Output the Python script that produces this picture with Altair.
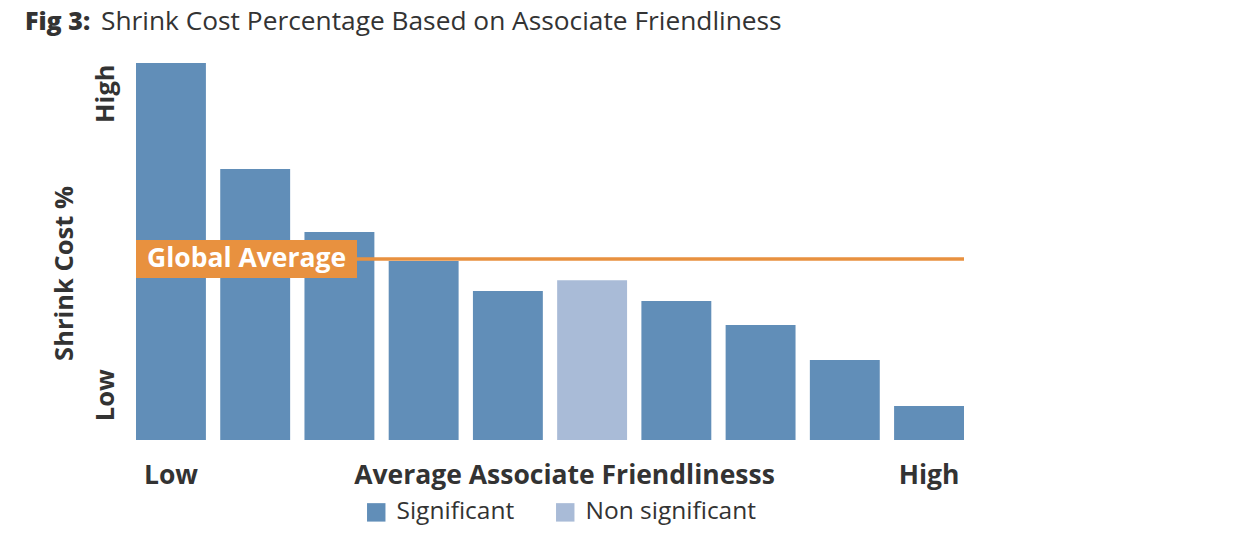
import altair as alt
import pandas as pd

# Friendliness groups, lowest to highest
groups = ["G1", "G2", "G3", "G4", "G5", "G6", "G7", "G8", "G9", "G10"]
# Relative shrink cost (index, 100 = highest group)
shrink_cost = [100, 71.9, 55.2, 47.5, 39.5, 42.4, 36.9, 30.5, 21.2, 9.0]
significance = ["Significant", "Significant", "Significant", "Significant", "Significant",
                "Non significant", "Significant", "Significant", "Significant", "Significant"]
global_average = 48.0

x_tick_labels = {"G1": "Low", "G10": "High"}
y_tick_labels = {12: "Low", 92: "High"}

FONT = "Open Sans"
BLUE = "#618EB8"
LIGHT_BLUE = "#A9BBD7"
ORANGE = "#E8913F"
INK = "#333333"

df = pd.DataFrame({"group": groups, "cost": shrink_cost, "sig": significance})

x_label_expr = " : ".join(
    [f"datum.value == '{k}' ? '{v}'" for k, v in x_tick_labels.items()] + ["''"]
)
y_label_expr = " : ".join(
    [f"datum.value == {k} ? '{v}'" for k, v in y_tick_labels.items()] + ["''"]
)

bars = alt.Chart(df).mark_bar().encode(
    x=alt.X(
        "group:N",
        sort=groups,
        scale=alt.Scale(paddingInner=0.17, paddingOuter=0),
        axis=alt.Axis(
            title="Average Associate Friendlinesss",
            labelExpr=x_label_expr,
            labelAngle=0,
            labelFont=FONT,
            labelFontSize=26.5,
            labelFontWeight="bold",
            labelColor=INK,
            labelBaseline="alphabetic",
            labelPadding=43,
            ticks=False,
            domain=False,
            titleFont=FONT,
            titleFontSize=26.5,
            titleFontWeight="bold",
            titleColor=INK,
            titleBaseline="alphabetic",
            titleAnchor="start",
            titleAlign="center",
            titleX=428,
            titleY=43,
        ),
    ),
    y=alt.Y(
        "cost:Q",
        scale=alt.Scale(domain=[0, 100], nice=False),
        axis=alt.Axis(
            title="Shrink Cost %",
            values=list(y_tick_labels.keys()),
            labelExpr=y_label_expr,
            labelAngle=270,
            labelAlign="center",
            labelBaseline="alphabetic",
            labelPadding=23,
            labelFont=FONT,
            labelFontSize=25.5,
            labelFontWeight="bold",
            labelColor=INK,
            ticks=False,
            domain=False,
            grid=False,
            titleFont=FONT,
            titleFontSize=25.5,
            titleFontWeight="bold",
            titleColor=INK,
            titleAngle=270,
            titleAlign="center",
            titleBaseline="alphabetic",
            titleX=-64,
            titleY=210,
        ),
    ),
    color=alt.Color(
        "sig:N",
        scale=alt.Scale(domain=["Significant", "Non significant"], range=[BLUE, LIGHT_BLUE]),
        legend=alt.Legend(
            title=None,
            orient="none",
            direction="horizontal",
            legendX=228,
            legendY=437,
            symbolType="square",
            symbolSize=340,
            symbolStrokeWidth=0,
            symbolOpacity=1,
            labelFont=FONT,
            labelFontSize=24.5,
            labelColor=INK,
            labelOffset=8,
            labelLimit=400,
            columnPadding=38,
        ),
    ),
)

avg_df = pd.DataFrame({"avg": [global_average], "label": ["Global Average"]})

avg_line = alt.Chart(avg_df).mark_rule(color=ORANGE, strokeWidth=3.5).encode(
    y="avg:Q", x=alt.value(0), x2=alt.value(828)
)

avg_box = alt.Chart(avg_df).mark_rect(color=ORANGE, yOffset=-19, y2Offset=19).encode(
    y="avg:Q", y2="avg:Q", x=alt.value(0), x2=alt.value(221)
)

avg_text = alt.Chart(avg_df).mark_text(
    color="white", font=FONT, fontSize=26.5, fontWeight="bold", align="left", baseline="middle", dx=11
).encode(y="avg:Q", x=alt.value(0), text="label:N")

title_df = pd.DataFrame({"fig": ["Fig 3:"], "t": ["Shrink Cost Percentage Based on Associate Friendliness"]})

fig_tag = alt.Chart(title_df).mark_text(
    font=FONT, fontSize=25, fontWeight=800, color=INK, align="left", baseline="alphabetic"
).encode(x=alt.value(-111), y=alt.value(-33), text="fig:N")

fig_title = alt.Chart(title_df).mark_text(
    font=FONT, fontSize=26.3, fontWeight="normal", color=INK, align="left", baseline="alphabetic"
).encode(x=alt.value(-35), y=alt.value(-33), text="t:N")

chart = (
    alt.layer(bars, avg_line, avg_box, avg_text, fig_tag, fig_title)
    .properties(
        width=828,
        height=377,
        autosize=alt.AutoSizeParams(type="none"),
        padding={"left": 136, "top": 63, "right": 276, "bottom": 99},
        background="white",
    )
    .configure_view(stroke=None)
)

chart.save("out.html", embed_options={"renderer": "svg", "actions": False})
